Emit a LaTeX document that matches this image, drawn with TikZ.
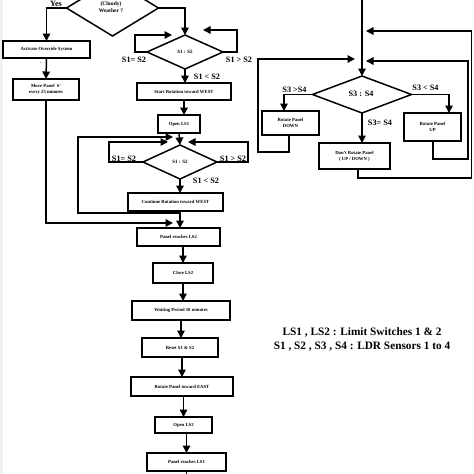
\documentclass[tikz,border=0pt]{standalone}
\usepackage{fontspec}
\setmainfont{Liberation Serif}
\usetikzlibrary{shapes.geometric,arrows.meta}
\begin{document}
\begin{tikzpicture}[x=1pt,y=-1pt,
  box/.style={draw, line width=1.5pt, inner sep=0pt, outer sep=0pt, align=center, font=\bfseries\fontsize{4.7}{6}\selectfont},
  dia/.style={draw, diamond, line width=1.5pt, inner sep=0pt, outer sep=0pt},
  con/.style={line width=1.5pt},
  arr/.style={line width=1.5pt, -{Triangle[length=7.5pt,width=7.5pt]}},
  lab/.style={font=\bfseries\fontsize{8.2}{9}\selectfont, inner sep=0pt},
  small/.style={font=\bfseries\fontsize{5}{6}\selectfont, inner sep=0pt, align=center},
  legend/.style={font=\bfseries\fontsize{11.3}{14}\selectfont, inner sep=0pt, align=center}
]
\useasboundingbox (0,0) rectangle (474,474);
\clip (0,0) rectangle (474,474);
\fill[gray!12] (0,0) rectangle (2.5,474);

% ---------- top decision ----------
\node[dia, minimum width=92, minimum height=56] (w) at (112.5,8) {};
\node[small, font=\bfseries\fontsize{5.5}{7.5}\selectfont] (wt) at (111,7.3) {(Cloudy)\\Weather ?};
\node[lab] (yes) at (56,3.5) {Yes};

% ---------- left branch ----------
\node[box, minimum width=87, minimum height=17] (a) at (46.5,49.5) {Activate Override System};
\node[small] (dot) at (41,63) {.};
\node[box, minimum width=66, minimum height=21] (b) at (46,89.5) {Move Panel\ \ 6'\\every 25 minutes};
\coordinate (bm) at (173,223);

% ---------- first S1:S2 decision ----------
\node[dia, minimum width=76, minimum height=34] (d1) at (185,52) {};
\node[small] (d1t) at (185,52) {S1 : S2};
\coordinate (d1la) at (135,52);
\coordinate (d1lb) at (135,35);
\coordinate (d1lc) at (172,35);
\coordinate (d1ra) at (237,52);
\coordinate (d1rb) at (237,30);
\coordinate (d1rc) at (203,30);
\node[lab] (l1) at (134,60) {S1= S2};
\node[lab] (l2) at (239,59.5) {S1 > S2};
\node[lab] (l3) at (207,77) {S1 < S2};

\node[box, minimum width=94, minimum height=17] (s) at (184,91.5) {Start Rotation toward WEST};
\node[box, minimum width=42, minimum height=18] (o1) at (179,124) {Open LS1};

% ---------- second S1:S2 decision ----------
\node[dia, minimum width=74, minimum height=34] (d2) at (180,162) {};
\node[small] (d2t) at (180,162) {S1 : S2};
\node[lab] (l4) at (124,159) {S1= S2};
\node[lab] (l5) at (233,159) {S1 > S2};
\node[lab] (l6) at (206,181) {S1 < S2};
\coordinate (d2la) at (109,162);
\coordinate (d2lb) at (109,142);
\coordinate (d2lc) at (168,142);
\coordinate (d2ra) at (248,162);
\coordinate (d2rb) at (248,142);
\coordinate (d2rc) at (188,142);

\node[box, minimum width=95, minimum height=18] (c) at (175.5,202) {Continue Rotation toward WEST};
\coordinate (cj) at (180,213);
\coordinate (cla) at (78,213);
\coordinate (clb) at (78,137);
\coordinate (clc) at (173,137);

% ---------- main column ----------
\node[box, minimum width=83, minimum height=18] (p2) at (178.5,237) {Panel reaches LS2};
\node[box, minimum width=60, minimum height=20] (cl) at (183,273) {Close LS2};
\node[box, minimum width=98, minimum height=19] (wp) at (181,310.5) {Waiting Period 10 minutes};
\node[box, minimum width=76, minimum height=19] (r) at (180,347.5) {Reset S1 \& S2};
\node[box, minimum width=102, minimum height=19] (e) at (182,386.5) {Rotate Panel toward EAST};
\node[box, minimum width=57, minimum height=16] (o2) at (183.5,425) {Open LS2};
\node[box, minimum width=79, minimum height=18] (p1) at (186.5,462) {Panel reaches LS1};
\coordinate (endp) at (186.5,480);

% ---------- right part ----------
\coordinate (top3) at (362,-5);
\node[dia, minimum width=99, minimum height=37] (d3) at (362,94.5) {};
\node[small, font=\bfseries\fontsize{8.2}{9}\selectfont] (d3t) at (361,94) {S3 : S4};
\node[lab] (l7) at (294.5,90) {S3 >S4};
\node[lab] (l8) at (425.5,88) {S3 < S4};
\node[lab] (l9) at (380,123) {S3= S4};
\node[box, minimum width=57, minimum height=24] (dn) at (290.5,123) {Rotate Panel\\DOWN};
\node[box, minimum width=57, minimum height=28] (up) at (432.5,127) {Rotate Panel\\UP};
\node[box, minimum width=71, minimum height=26] (dr) at (354.5,156) {Don't Rotate Panel\\( UP / DOWN )};
\coordinate (dna) at (289,152);
\coordinate (dnb) at (258,152);
\coordinate (dnc) at (258,59);
\coordinate (dnd) at (355,59);
\coordinate (upa) at (433,159);
\coordinate (upb) at (468,159);
\coordinate (upc) at (468,61);
\coordinate (upd) at (366,61);
\coordinate (dra) at (358,178);
\coordinate (drb) at (471.5,178);
\coordinate (drc) at (471.5,31);
\coordinate (drd) at (366,31);

\node[legend] (leg) at (362,339) {LS1 , LS2 : Limit Switches 1 \& 2\\S1 , S2 , S3 , S4 : LDR Sensors 1 to 4};

% ---------- connectors ----------
\draw[arr] (w.west) -| (a.north);
\draw[arr] (w.east) -| (d1.north);
\draw[arr] (a.south) -- (b.north);
\draw[arr] (b.south) |- (bm);

\draw[arr] (d1.west) -- (d1la) -- (d1lb) -- (d1lc);
\draw[arr] (d1.east) -- (d1ra) -- (d1rb) -- (d1rc);
\draw[arr] (d1.south) -- (d1.south |- s.north);
\draw[arr] (s.south) -- (s.south |- o1.north);
\draw[arr] (o1.south) -- (d2.north);
\draw[arr] (d2.west) -- (d2la) -- (d2lb) -- (d2lc);
\draw[arr] (d2.east) -- (d2ra) -- (d2rb) -- (d2rc);
\draw[arr] (d2.south) -- (d2.south |- c.north);
\draw[arr] (c.south -| cj) -- (cj |- p2.north);
\draw[arr] (cj) -- (cla) -- (clb) -- (clc);

\draw[arr] (p2.south -| cl) -- (cl.north);
\draw[arr] (cl.south) -- (cl.south |- wp.north);
\draw[arr] (wp.south) -- (wp.south |- r.north);
\draw[arr] (r.south -| e) -- (e.north);
\draw[arr] (e.south -| o2) -- (o2.north);
\draw[arr] (o2.south -| p1) -- (p1.north);
\draw[con] (p1.south) -- (endp);

\draw[arr] (top3) -- (d3.north);
\draw[arr] (d3.west) -| ([xshift=-6.5pt]dn.north);
\draw[arr] (d3.east) -| ([xshift=16.5pt]up.north);
\draw[arr] (d3.south) -- (d3.south |- dr.north);
\draw[arr] (dn.south -| dna) -- (dna) -- (dnb) -- (dnc) -- (dnd);
\draw[arr] (up.south -| upa) -- (upa) -- (upb) -- (upc) -- (upd);
\draw[arr] (dr.south -| dra) -- (dra) -- (drb) -- (drc) -- (drd);
\end{tikzpicture}
\end{document}
